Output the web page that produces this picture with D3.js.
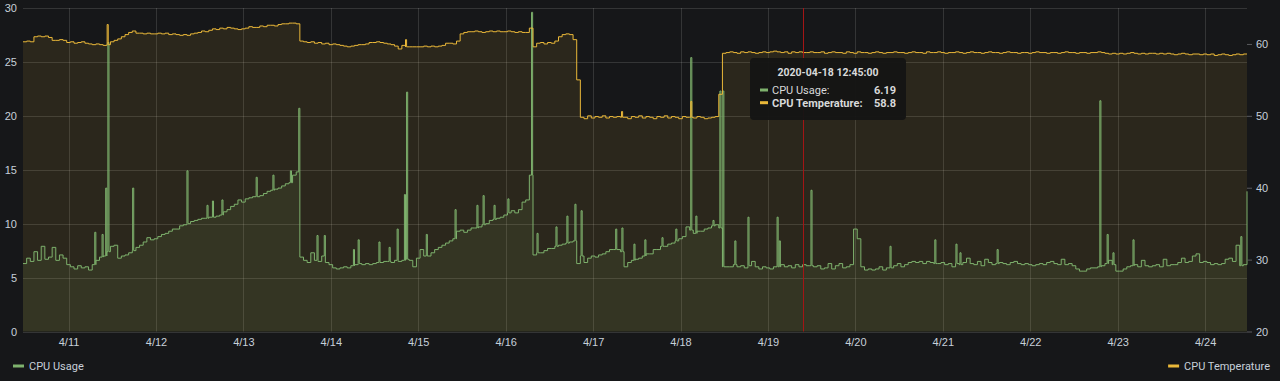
<!DOCTYPE html>
<html>
<head>
<meta charset="utf-8">
<title>CPU Usage / Temperature</title>
<script src="https://cdn.jsdelivr.net/npm/d3@7/dist/d3.min.js"></script>
<style>
  body { margin: 0; background: #161719; overflow: hidden; }
  svg { display: block; font-family: Roboto, "Helvetica Neue", Arial, sans-serif; }
  .tick text { fill: #c7d0d9; }
  .axis path.domain { display: none; }
</style>
</head>
<body>
<svg id="chart" width="1280" height="381"></svg>
<script>
// hourly samples, starting 2020-04-10 11:30
var startTime = new Date(2020, 3, 10, 11, 30);
var endTime = new Date(2020, 3, 24, 11, 30);

var cpuUsage = [
  6.3, 6.8, 6.5, 7.4, 6.6, 7.9, 6.7, 6.9, 7.8, 6.6, 7.1, 6.8,
  6.2, 6.0, 5.8, 6.1, 5.9, 6.0, 5.7, 6.2, 6.6, 6.9, 7.0, 7.4,
  7.9, 8.0, 6.8, 7.0, 7.1, 7.3, 7.5, 7.8, 8.0, 8.3, 8.7, 8.5,
  8.6, 8.8, 9.0, 9.1, 9.3, 9.5, 9.5, 9.8, 9.9, 10.0, 10.2, 10.3,
  10.4, 10.5, 10.5, 10.6, 10.6, 10.7, 10.8, 11.1, 11.3, 11.6, 11.8, 12.2,
  12.0, 12.3, 12.4, 12.5, 12.5, 12.6, 12.8, 13.0, 13.1, 13.2, 13.3, 13.5,
  13.7, 13.8, 14.5, 14.8, 6.9, 6.6, 6.4, 7.3, 6.6, 6.5, 7.0, 6.4,
  6.2, 5.9, 5.8, 5.9, 6.0, 5.9, 6.1, 6.2, 6.3, 6.2, 6.3, 6.2,
  6.3, 6.4, 6.4, 6.5, 6.5, 6.4, 6.6, 6.5, 6.6, 6.7, 6.6, 6.0,
  6.8, 7.6, 7.0, 7.0, 7.3, 7.6, 7.8, 8.0, 8.2, 8.4, 8.6, 9.3,
  9.4, 9.2, 9.4, 9.6, 9.6, 9.7, 9.9, 10.0, 10.3, 10.4, 10.5, 10.6,
  10.8, 11.0, 11.2, 11.0, 11.3, 12.0, 12.2, 14.5, 7.1, 7.3, 7.3, 7.5,
  7.7, 7.7, 7.9, 8.0, 8.1, 8.2, 8.3, 8.4, 6.3, 7.0, 6.4, 6.8,
  7.0, 6.9, 7.1, 7.2, 7.4, 7.6, 7.6, 7.6, 7.4, 6.0, 6.4, 6.6,
  6.7, 6.8, 7.0, 7.2, 7.2, 7.6, 7.6, 7.9, 7.9, 8.1, 8.2, 8.4,
  8.6, 8.8, 9.7, 9.4, 9.1, 9.3, 9.3, 9.5, 9.6, 9.8, 9.9, 9.6,
  6.0, 6.0, 6.0, 6.2, 6.0, 6.1, 5.9, 6.1, 6.5, 6.0, 5.8, 6.0,
  5.9, 5.8, 6.0, 6.0, 6.2, 6.0, 6.1, 5.9, 6.2, 6.0, 6.2, 6.1,
  6.1, 6.0, 6.1, 5.8, 5.9, 6.3, 5.8, 6.1, 6.3, 5.9, 6.0, 6.2,
  9.5, 8.6, 6.0, 5.7, 5.8, 5.7, 5.8, 6.0, 5.7, 5.9, 5.9, 6.1,
  6.3, 6.0, 6.2, 6.4, 6.5, 6.4, 6.5, 6.3, 6.5, 6.4, 6.3, 6.3,
  6.4, 6.2, 6.3, 6.0, 6.3, 6.2, 6.4, 6.8, 6.3, 6.2, 6.5, 6.1,
  6.7, 6.4, 6.2, 6.3, 6.4, 6.3, 6.2, 6.4, 6.5, 6.3, 6.2, 6.3,
  6.2, 6.1, 6.2, 6.3, 6.2, 6.4, 6.5, 6.3, 6.2, 6.7, 6.2, 6.3,
  6.1, 5.8, 5.6, 5.6, 5.8, 5.9, 5.9, 6.0, 6.1, 6.3, 6.6, 6.2,
  5.6, 5.6, 5.8, 6.0, 6.1, 6.2, 6.0, 6.6, 6.1, 6.0, 6.1, 6.2,
  6.0, 6.7, 6.1, 6.2, 6.2, 6.4, 6.8, 6.4, 6.5, 7.0, 7.2, 6.4,
  6.5, 6.4, 6.2, 6.3, 6.2, 6.3, 6.7, 6.8, 6.5, 8.0, 6.1, 6.2, 13.0
];
// short-lived peaks: hours after start, and the peak value
var usageSpikeHours = [
  19.9, 21.8, 22.9, 23.3, 30.1, 45.0, 50.5, 52.0, 54.6, 64.0, 68.6, 73.4,
  75.7, 80.7, 82.9, 90.9, 92.0, 97.7, 100.5, 102.7, 104.8, 105.3, 110.9, 118.6,
  124.6, 126.3, 129.3, 133.1, 139.6, 141.1, 146.3, 149.3, 151.5, 153.2, 162.8, 164.4,
  167.7, 170.7, 175.4, 179.2, 183.3, 184.7, 189.4, 191.3, 192.1, 195.4, 199.0, 207.0,
  207.6, 216.3, 238.0, 250.3, 256.1, 257.2, 267.4, 295.6, 297.6, 299.2, 304.7, 334.3
];
var usageSpikeValues = [
  9.2, 9.0, 13.3, 26.8, 13.3, 14.9, 11.7, 12.1, 12.2, 14.3, 14.5, 14.9,
  20.7, 8.9, 8.9, 7.6, 8.5, 8.3, 7.8, 9.5, 12.7, 22.2, 9.0, 11.3,
  11.7, 12.6, 11.7, 12.3, 29.6, 9.1, 9.7, 10.7, 11.8, 11.2, 9.5, 9.6,
  8.1, 8.5, 8.7, 9.5, 25.4, 10.7, 10.3, 22.3, 22.3, 8.4, 10.6, 10.6,
  8.4, 13.1, 7.9, 8.5, 8.1, 7.3, 7.6, 21.4, 9.0, 7.3, 8.5, 8.8
];

var cpuTemp = [
  60.3, 60.4, 60.3, 61.0, 61.1, 61.0, 61.1, 60.9, 60.5, 60.5, 60.6, 60.5,
  60.2, 60.3, 60.1, 60.2, 60.3, 60.1, 60.0, 59.9, 60.0, 59.9, 59.8, 59.9,
  60.3, 60.5, 60.7, 61.0, 61.3, 61.6, 61.8, 61.5, 61.5, 61.4, 61.5, 61.4,
  61.4, 61.5, 61.4, 61.5, 61.3, 61.4, 61.3, 61.2, 61.3, 61.2, 61.4, 61.5,
  61.6, 61.8, 61.7, 61.9, 62.1, 62.0, 62.2, 62.1, 62.3, 62.2, 62.1, 62.0,
  62.1, 62.2, 62.4, 62.3, 62.3, 62.5, 62.4, 62.6, 62.6, 62.5, 62.7, 62.8,
  62.8, 62.9, 62.9, 62.8, 60.4, 60.3, 60.2, 60.3, 60.1, 60.2, 60.0, 60.1,
  59.9, 60.0, 59.9, 59.8, 59.7, 59.6, 59.7, 59.8, 59.9, 59.9, 60.0, 60.2,
  60.2, 60.3, 60.2, 60.1, 60.0, 59.9, 59.7, 59.3, 59.8, 59.6, 59.6, 59.6,
  59.6, 59.6, 59.7, 59.6, 59.7, 59.6, 59.7, 59.8, 60.1, 60.1, 60.0, 60.4,
  61.4, 61.6, 61.7, 61.7, 61.8, 61.7, 61.6, 61.7, 61.8, 61.7, 61.8, 61.7,
  61.7, 61.8, 61.7, 61.6, 61.7, 61.6, 61.6, 62.2, 59.6, 60.1, 60.2, 60.0,
  60.2, 60.1, 60.4, 61.0, 61.3, 61.4, 61.3, 60.6, 55.0, 49.8, 49.6, 50.0,
  49.7, 49.9, 49.8, 50.0, 49.7, 49.9, 49.8, 49.9, 49.8, 49.8, 49.6, 49.9,
  49.8, 50.0, 49.7, 49.9, 49.8, 49.6, 49.9, 49.8, 50.0, 49.7, 49.9, 49.8,
  49.6, 49.9, 49.8, 49.8, 49.7, 49.9, 49.8, 49.6, 49.7, 49.8, 49.9, 53.0,
  58.7, 58.8, 58.9, 58.8, 58.7, 58.9, 58.8, 58.9, 58.8, 58.7, 58.8, 58.9,
  58.8, 58.9, 59.0, 58.9, 58.8, 58.9, 58.7, 58.9, 58.8, 58.9, 58.8, 58.8,
  58.9, 58.8, 58.8, 58.9, 58.7, 58.8, 58.9, 58.8, 58.8, 58.7, 58.9, 58.8,
  58.7, 58.9, 58.8, 58.8, 58.7, 58.8, 58.9, 58.8, 58.7, 58.8, 58.8, 58.9,
  58.8, 58.8, 58.7, 58.8, 58.9, 58.8, 58.8, 58.7, 58.9, 58.8, 58.8, 58.9,
  58.8, 58.7, 58.8, 58.8, 58.9, 58.8, 58.7, 58.8, 58.9, 58.8, 58.8, 58.7,
  58.8, 58.9, 58.8, 58.8, 58.7, 58.8, 58.9, 58.8, 58.8, 58.7, 58.8, 58.8,
  58.7, 58.8, 58.9, 58.8, 58.8, 58.7, 58.8, 58.8, 58.7, 58.8, 58.9, 58.8,
  58.8, 58.7, 58.8, 58.8, 58.7, 58.8, 58.8, 58.9, 58.8, 58.7, 58.6, 58.7,
  58.6, 58.7, 58.6, 58.7, 58.8, 58.7, 58.6, 58.7, 58.6, 58.7, 58.7, 58.6,
  58.7, 58.6, 58.7, 58.6, 58.5, 58.6, 58.7, 58.6, 58.5, 58.6, 58.6, 58.5,
  58.6, 58.5, 58.6, 58.4, 58.5, 58.6, 58.5, 58.4, 58.5, 58.6, 58.5, 58.6, 58.6
];
var tempSpikeHours = [23.1, 105.0, 164.3, 183.3];
var tempSpikeValues = [62.7, 60.6, 50.6, 52.0];

var leftTicks = [0, 5, 10, 15, 20, 25, 30];
var rightTicks = [20, 30, 40, 50, 60];
var seriesNames = ["CPU Usage", "CPU Temperature"];
var seriesColors = ["#7eb26d", "#eab839"];

// hover state shown in the screenshot
var hoverTime = new Date(2020, 3, 19, 9, 40);
var tipTitle = "2020-04-18 12:45:00";
var tipValues = ["6.19", "58.8"];

var W = 1280, H = 381;
var margin = {top: 8, right: 33, bottom: 49.5, left: 23};

var svg = d3.select("#chart");

var x = d3.scaleTime()
  .domain([startTime, endTime])
  .range([margin.left, W - margin.right]);

var yL = d3.scaleLinear().domain([0, 30]).range([H - margin.bottom, margin.top]);
var yR = d3.scaleLinear().domain([20, 65]).range([H - margin.bottom, margin.top]);

// merge the hourly samples with the short peaks (each peak lasts ~20 min)
function buildSeries(values, spikeHours, spikeValues) {
  var pts = [];
  values.forEach(function(v, i) {
    pts.push({h: i, v: v});
    spikeHours.forEach(function(sh, k) {
      if (sh >= i && sh < i + 1) {
        var s = Math.min(sh, i + 0.7);
        pts.push({h: s, v: spikeValues[k]});
        pts.push({h: s + 0.3, v: v});
      }
    });
  });
  pts.sort((a, b) => a.h - b.h);
  return pts.map(p => ({t: new Date(+startTime + p.h * 3600e3), v: p.v}));
}

var usage = buildSeries(cpuUsage, usageSpikeHours, usageSpikeValues);
var temp = buildSeries(cpuTemp, tempSpikeHours, tempSpikeValues);

// grid
var grid = svg.append("g").attr("stroke", "#ffffff").attr("stroke-opacity", 0.13);
grid.selectAll("line.h").data(leftTicks).enter().append("line")
  .attr("x1", margin.left).attr("x2", W - margin.right)
  .attr("y1", d => Math.round(yL(d)) + 0.5).attr("y2", d => Math.round(yL(d)) + 0.5);
grid.selectAll("line.v").data(x.ticks(d3.timeDay.every(1))).enter().append("line")
  .attr("x1", d => Math.round(x(d)) + 0.5).attr("x2", d => Math.round(x(d)) + 0.5)
  .attr("y1", margin.top).attr("y2", H - margin.bottom);

// areas and lines
var areaTemp = d3.area().curve(d3.curveStepAfter)
  .x(d => x(d.t)).y0(yR(20)).y1(d => yR(d.v));
var areaUsage = d3.area().curve(d3.curveStepAfter)
  .x(d => x(d.t)).y0(yL(0)).y1(d => yL(d.v));
var lineTemp = d3.line().curve(d3.curveStepAfter).x(d => x(d.t)).y(d => yR(d.v));
var lineUsage = d3.line().curve(d3.curveStepAfter).x(d => x(d.t)).y(d => yL(d.v));

svg.append("path").datum(usage).attr("d", areaUsage)
  .attr("fill", seriesColors[0]).attr("fill-opacity", 0.1);
svg.append("path").datum(temp).attr("d", areaTemp)
  .attr("fill", seriesColors[1]).attr("fill-opacity", 0.1);
svg.append("path").datum(usage).attr("d", lineUsage)
  .attr("fill", "none").attr("stroke", seriesColors[0]).attr("stroke-width", 1);
svg.append("path").datum(temp).attr("d", lineTemp)
  .attr("fill", "none").attr("stroke", seriesColors[1]).attr("stroke-width", 1);

// axes
var xAxis = d3.axisBottom(x)
  .ticks(d3.timeDay.every(1))
  .tickFormat(d3.timeFormat("%-m/%-d"))
  .tickSize(0).tickPadding(7);
svg.append("g").attr("class", "axis")
  .attr("transform", "translate(0," + (H - margin.bottom) + ")")
  .call(xAxis)
  .selectAll("text").style("font-size", "11px");

var yAxisL = d3.axisLeft(yL).tickValues(leftTicks).tickSize(0).tickPadding(6);
svg.append("g").attr("class", "axis")
  .attr("transform", "translate(" + margin.left + ",0)")
  .call(yAxisL)
  .selectAll("text").style("font-size", "11px");

var yAxisR = d3.axisRight(yR).tickValues(rightTicks).tickSizeInner(5).tickPadding(4);
var gr = svg.append("g").attr("class", "axis")
  .attr("transform", "translate(" + (W - margin.right) + ",0)")
  .call(yAxisR);
gr.selectAll("text").style("font-size", "11px");
gr.selectAll(".tick line").attr("stroke", "#5a5b5e");

// crosshair
svg.append("line")
  .attr("x1", Math.round(x(hoverTime)) + 0.5).attr("x2", Math.round(x(hoverTime)) + 0.5)
  .attr("y1", margin.top).attr("y2", H - margin.bottom)
  .attr("stroke", "#a31515").attr("stroke-width", 1);

// tooltip
var tip = svg.append("g").attr("transform", "translate(750,58)");
tip.append("rect").attr("width", 156).attr("height", 62).attr("rx", 4)
  .attr("fill", "#141414").attr("fill-opacity", 0.95);
tip.append("text").attr("x", 78).attr("y", 17.5).attr("text-anchor", "middle")
  .style("font-size", "10.5px").style("font-weight", "bold").attr("fill", "#d8d9da")
  .text(tipTitle);
var rows = tip.selectAll("g.row").data(seriesNames).enter().append("g")
  .attr("transform", (d, i) => "translate(0," + (32 + i * 12.7) + ")");
rows.append("rect").attr("x", 10).attr("y", -1.5).attr("width", 8).attr("height", 3)
  .attr("fill", (d, i) => seriesColors[i]);
rows.append("text").attr("x", 22).attr("y", 4)
  .style("font-size", "11px").style("font-weight", (d, i) => i === 1 ? "bold" : "normal")
  .attr("fill", "#d8d9da").text(d => d + ":");
rows.append("text").attr("x", 146).attr("y", 4).attr("text-anchor", "end")
  .style("font-size", "11px").style("font-weight", "bold")
  .attr("fill", "#d8d9da").text((d, i) => tipValues[i]);

// legend
var legend = svg.append("g");
var lg0 = legend.append("g").attr("transform", "translate(13,366)");
lg0.append("rect").attr("x", 0).attr("y", -1.5).attr("width", 11).attr("height", 3).attr("fill", seriesColors[0]);
lg0.append("text").attr("x", 16).attr("y", 4).style("font-size", "11px").attr("fill", "#c7d0d9").text(seriesNames[0]);
var lg1 = legend.append("g").attr("transform", "translate(1270,366)");
lg1.append("text").attr("x", 0).attr("y", 4).attr("text-anchor", "end")
  .style("font-size", "11px").attr("fill", "#c7d0d9").text(seriesNames[1]);
var tw = lg1.select("text").node().getComputedTextLength();
lg1.append("rect").attr("x", -tw - 16).attr("y", -1.5).attr("width", 11).attr("height", 3).attr("fill", seriesColors[1]);
</script>
</body>
</html>
